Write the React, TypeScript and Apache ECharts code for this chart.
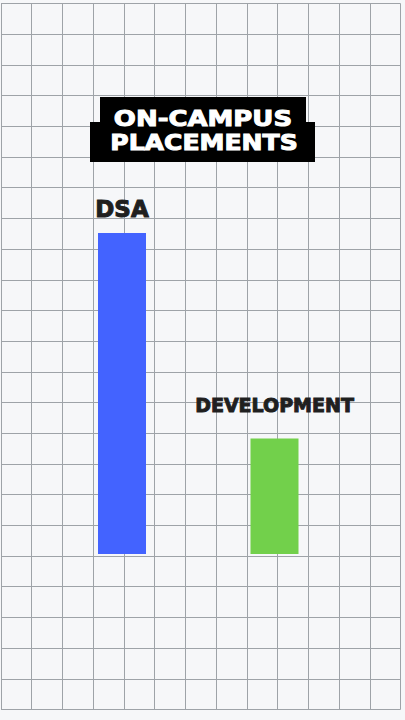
import React, { useEffect, useRef } from 'react';
import * as echarts from 'echarts';

const categories = ['DSA', 'DEVELOPMENT'];
const values = [100, 36];
const barColors = ['#4363ff', '#72d04b'];
const titleLines = ['ON-CAMPUS', 'PLACEMENTS'];

// grid paper: number of cells across and down
const cellsX = 13;
const cellsY = 23;

const App: React.FC = () => {
  const chartRef = useRef<HTMLDivElement>(null);

  useEffect(() => {
    if (!chartRef.current) return;
    const chart = echarts.init(chartRef.current, null, { renderer: 'svg' });

    const labelDistance = [13, 24];
    const paperLine = { show: true, lineStyle: { color: '#9ea3a8', width: 1 } };

    const options: echarts.EChartsOption = {
      animation: false,
      backgroundColor: '#f6f7f9',
      grid: [
        // graph paper
        { left: 1, top: 3.5, width: 399.5, height: 706, show: false },
        // bars
        { left: 45.75, top: 233, width: 305, height: 321, show: false }
      ],
      xAxis: [
        {
          gridIndex: 0,
          type: 'value',
          min: 0,
          max: cellsX,
          interval: 1,
          axisLine: { show: false },
          axisTick: { show: false },
          axisLabel: { show: false },
          splitLine: paperLine
        },
        {
          gridIndex: 1,
          type: 'category',
          data: categories,
          axisLine: { show: false },
          axisTick: { show: false },
          axisLabel: { show: false },
          splitLine: { show: false }
        }
      ],
      yAxis: [
        {
          gridIndex: 0,
          type: 'value',
          min: 0,
          max: cellsY,
          interval: 1,
          axisLine: { show: false },
          axisTick: { show: false },
          axisLabel: { show: false },
          splitLine: paperLine
        },
        {
          gridIndex: 1,
          type: 'value',
          min: 0,
          max: 100,
          axisLine: { show: false },
          axisTick: { show: false },
          axisLabel: { show: false },
          splitLine: { show: false }
        }
      ],
      series: [
        {
          type: 'bar',
          xAxisIndex: 1,
          yAxisIndex: 1,
          barWidth: 48,
          data: values.map((v, i) => ({
            value: v,
            itemStyle: { color: barColors[i] },
            label: {
              show: true,
              position: 'top',
              distance: labelDistance[i],
              formatter: categories[i],
              color: '#1f1f1f',
              textBorderColor: '#1f1f1f',
              textBorderWidth: 1,
              fontFamily: 'DejaVu Sans',
              fontWeight: 'bold',
              fontSize: i === 0 ? 23 : 19
            }
          }))
        }
      ],
      graphic: [
        {
          type: 'group',
          z: 100,
          children: [
            { type: 'rect', z: 100, shape: { x: 100, y: 97, width: 206, height: 26 }, style: { fill: '#000' } },
            { type: 'rect', z: 100, shape: { x: 90, y: 122, width: 225, height: 40 }, style: { fill: '#000' } },
            {
              type: 'text',
              z: 101,
              x: 203,
              y: 119,
              scaleX: 1.18,
              style: {
                text: titleLines[0],
                fill: '#fff',
                stroke: '#fff',
                lineWidth: 1,
                font: 'bold 22px "DejaVu Sans"',
                textAlign: 'center',
                textVerticalAlign: 'middle'
              }
            },
            {
              type: 'text',
              z: 101,
              x: 204,
              y: 143,
              scaleX: 1.14,
              style: {
                text: titleLines[1],
                fill: '#fff',
                stroke: '#fff',
                lineWidth: 1,
                font: 'bold 22px "DejaVu Sans"',
                textAlign: 'center',
                textVerticalAlign: 'middle'
              }
            }
          ]
        }
      ]
    };

    chart.setOption(options);

    return () => {
      chart.dispose();
    };
  }, []);

  return (
    <div
      ref={chartRef}
      style={{ position: 'absolute', left: 0, top: 0, width: 405, height: 720 }}
    />
  );
};

export default App;
